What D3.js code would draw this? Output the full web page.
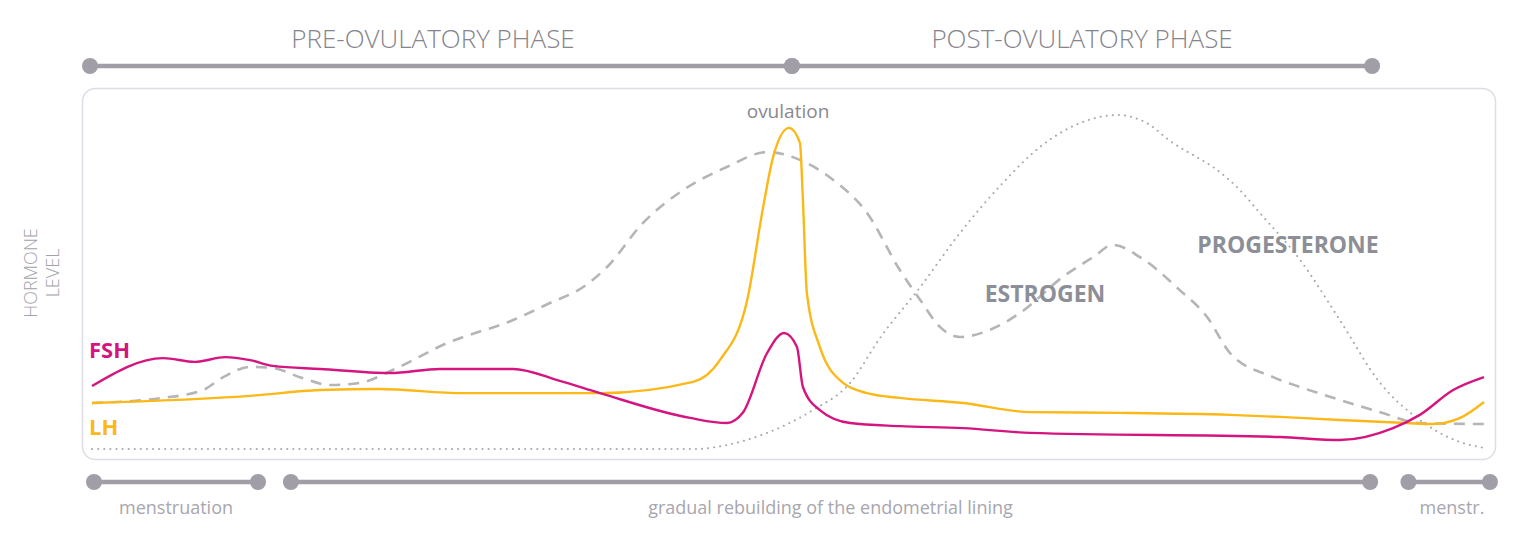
<!DOCTYPE html>
<html>
<head>
<meta charset="utf-8">
<script src="https://cdn.jsdelivr.net/npm/d3@7"></script>
<style>
  body { margin: 0; background: #fff; }
  svg { display: block; }
  text { font-family: "Open Sans", Lato, sans-serif; }
</style>
</head>
<body>
<script>
// cycle day (0..28) and relative hormone level (0..100)
const fshDays = [0, 1.43, 2.07, 2.68, 3.18, 3.64, 4.59, 5.99, 7.0, 8.47, 9.41, 10.22, 12.03, 12.77, 13.09, 13.58, 13.92, 14.18, 14.30, 14.64, 15.25, 16.25, 17.52, 18.87, 23.9, 25.1, 26.17, 26.71, 27.38, 28];
const fshLevel = [20.3, 28.5, 27.4, 28.8, 27.9, 26.2, 25.3, 24.1, 25.3, 25.3, 21.8, 18.2, 10.9, 9.4, 12.4, 30.0, 35.9, 31.8, 20.0, 13.2, 9.4, 8.5, 7.9, 6.5, 5.3, 4.4, 7.9, 11.8, 19.1, 22.9];

const lhDays = [0, 3.18, 4.59, 5.79, 7.46, 9.41, 10.22, 12.09, 12.63, 13.18, 13.5, 13.70, 14.02, 14.24, 14.30, 14.38, 14.64, 15.11, 15.59, 16.25, 17.52, 18.87, 20.68, 22.89, 23.9, 25.1, 26.45, 26.97, 27.52, 28];
const lhLevel = [15.3, 17.4, 19.1, 19.4, 18.2, 18.2, 18.2, 21.5, 27.9, 45.6, 72.9, 87.6, 96.2, 91.8, 75.0, 47.6, 31.8, 21.2, 18.2, 16.8, 15.3, 12.6, 12.4, 11.8, 11.2, 10.3, 9.4, 9.1, 10.9, 15.6];

const estrogenDays = [0, 1.43, 2.23, 2.64, 3.18, 3.64, 4.18, 4.79, 5.39, 6.05, 7.14, 8.47, 9.21, 9.88, 10.36, 11.08, 11.89, 12.77, 13.58, 14.24, 14.91, 15.59, 16.25, 16.66, 17.06, 17.46, 18.06, 18.67, 19.53, 20.14, 20.54, 21.08, 21.88, 22.43, 22.89, 23.76, 24.3, 25.1, 25.91, 26.71, 28];
const estrogenLevel = [15.3, 16.8, 19.1, 22.9, 25.9, 25.6, 22.9, 20.6, 21.2, 25.0, 32.9, 39.7, 44.7, 49.4, 55.3, 68.2, 77.9, 84.7, 89.1, 86.8, 80.9, 71.2, 54.4, 45.6, 37.6, 34.7, 36.8, 41.8, 52.4, 58.2, 61.8, 58.2, 48.5, 40.6, 30.0, 22.9, 20.0, 16.2, 12.6, 9.4, 9.1];

const progDays = [0, 12.23, 12.57, 13.58, 14.50, 15.25, 15.85, 16.66, 17.46, 18.32, 19.07, 19.87, 20.62, 21.22, 21.74, 22.15, 22.55, 23.09, 23.49, 24.3, 25.1, 25.91, 26.71, 27.52, 28];
const progLevel = [1.8, 1.8, 2.4, 6.5, 13.2, 21.2, 34.4, 49.4, 65.3, 80.0, 90.6, 97.6, 100, 97.6, 91.8, 88.2, 84.7, 77.9, 71.2, 57.4, 39.7, 21.2, 10.3, 3.8, 2.1];

// phase bars: [label, start day, end day]
const phases = [["PRE-OVULATORY PHASE", -0.04, 14.08], ["POST-OVULATORY PHASE", 14.08, 25.75]];
const stages = [["menstruation", 0.04, 3.34], ["gradual rebuilding of the endometrial lining", 4.0, 25.71], ["menstr.", 26.48, 28.12]];

const width = 1536, height = 535;
const svg = d3.select("body").append("svg")
    .attr("width", width)
    .attr("height", height);

const x = d3.scaleLinear().domain([0, 28]).range([92, 1484]);
const y = d3.scaleLinear().domain([0, 100]).range([455, 115]);

const barColor = "#a19ea8";

// chart frame
svg.append("rect")
    .attr("x", 82.5).attr("y", 88.5)
    .attr("width", 1413).attr("height", 371)
    .attr("rx", 13)
    .attr("fill", "none")
    .attr("stroke", "#dedde5")
    .attr("stroke-width", 1.5);

function drawBar(g, items, yPos, labelY, labelSize, labelColor, weight, labelAt) {
    items.forEach(([name, d0, d1], i) => {
        g.append("line")
            .attr("x1", x(d0)).attr("x2", x(d1))
            .attr("y1", yPos).attr("y2", yPos)
            .attr("stroke", barColor)
            .attr("stroke-width", 4.5);
        [d0, d1].forEach(d => {
            g.append("circle")
                .attr("cx", x(d)).attr("cy", yPos).attr("r", 8)
                .attr("fill", barColor);
        });
        g.append("text")
            .attr("x", labelAt ? labelAt(i, d0, d1) : (x(d0) + x(d1)) / 2)
            .attr("y", labelY)
            .attr("text-anchor", "middle")
            .attr("font-size", labelSize)
            .attr("font-weight", weight)
            .attr("fill", labelColor)
            .text(name);
    });
}

drawBar(svg.append("g"), phases, 66, 48, 26, "#86848c", 300,
    (i, d0, d1) => (x(d0) + x(d1)) / 2 - (i === 0 ? 8 : 0));
drawBar(svg.append("g"), stages, 482, 514, 18, "#a8a6ae", 400,
    (i, d0, d1) => i === 2 ? x(d1) - 38 : (x(d0) + x(d1)) / 2);

// hormone curves
const line = (days, levels) => d3.line()
    .x((d, i) => x(days[i]))
    .y(d => y(d))
    .curve(d3.curveMonotoneX)(levels);

svg.append("path")
    .attr("d", line(progDays, progLevel))
    .attr("fill", "none")
    .attr("stroke", "#a9a9ad")
    .attr("stroke-width", 2)
    .attr("stroke-linecap", "round")
    .attr("stroke-dasharray", "0.1 6");

svg.append("path")
    .attr("d", line(estrogenDays, estrogenLevel))
    .attr("fill", "none")
    .attr("stroke", "#b5b5b9")
    .attr("stroke-width", 2.6)
    .attr("stroke-dasharray", "11 8");

svg.append("path")
    .attr("d", line(lhDays, lhLevel))
    .attr("fill", "none")
    .attr("stroke", "#fbb817")
    .attr("stroke-width", 2.4);

svg.append("path")
    .attr("d", line(fshDays, fshLevel))
    .attr("fill", "none")
    .attr("stroke", "#d5157f")
    .attr("stroke-width", 2.4);

// labels
const labels = [
    ["FSH", 89, 358, "#d5157f", "start", 22],
    ["LH", 89, 435, "#fbb817", "start", 22],
    ["ESTROGEN", 1045, 302, "#8c8f97", "middle", 23],
    ["PROGESTERONE", 1288, 253, "#8c8f97", "middle", 23]
];
labels.forEach(([t, lx, ly, c, a, s]) => {
    svg.append("text")
        .attr("x", lx).attr("y", ly)
        .attr("text-anchor", a)
        .attr("font-size", s)
        .attr("font-weight", 700)
        .attr("fill", c)
        .text(t);
});

svg.append("text")
    .attr("x", x(14.0)).attr("y", 118)
    .attr("text-anchor", "middle")
    .attr("font-size", 19)
    .attr("fill", "#8a8890")
    .text("ovulation");

const yl = svg.append("text")
    .attr("transform", "translate(30,273) rotate(-90)")
    .attr("text-anchor", "middle")
    .attr("font-size", 18)
    .attr("font-weight", 300)
    .attr("fill", "#a3a1a9");
yl.append("tspan").attr("x", 0).attr("dy", 7).text("HORMONE");
yl.append("tspan").attr("x", 0).attr("dy", 22).text("LEVEL");
</script>
</body>
</html>
